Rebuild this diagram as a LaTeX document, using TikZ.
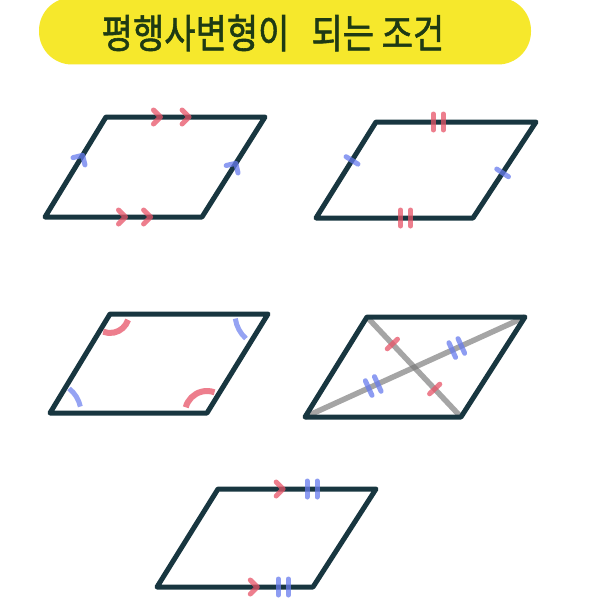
\documentclass[tikz,border=0pt]{standalone}
\usepackage{fontspec}
\newfontfamily\krfont{Noto Sans CJK KR}[AutoFakeBold=1.5]
\definecolor{bannerfill}{RGB}{246,232,44}
\definecolor{titleink}{RGB}{30,58,20}
\definecolor{sideink}{RGB}{24,54,64}
\definecolor{markred}{RGB}{232,84,104}
\definecolor{markblue}{RGB}{104,124,238}
\definecolor{diaggray}{RGB}{118,118,118}
\tikzset{
  side/.style={draw=sideink, line width=5pt, line join=round, line cap=round},
  diag/.style={draw=diaggray, line width=5.5pt, opacity=0.65},
  redmark/.style={draw=markred, line width=5pt, line cap=round, line join=round, opacity=0.75},
  bluemark/.style={draw=markblue, line width=5pt, line cap=round, line join=round, opacity=0.75},
  redarc/.style={draw=markred, line width=6pt, opacity=0.75},
  bluearc/.style={draw=markblue, line width=5pt, opacity=0.7},
  chev/.pic={\draw[pic actions] (-5,-7) -- (2,0) -- (-5,7);},
  onetick/.pic={\draw[pic actions] (0,-7) -- (0,7);},
  twotick/.pic={\draw[pic actions] (-5,-8) -- (-5,8) (5,-8) -- (5,8);}
}
\begin{document}
\begin{tikzpicture}[x=1pt, y=-1pt]
\useasboundingbox (0,0) rectangle (596,610);
\fill[white] (0,0) rectangle (596,610);
\node[fill=bannerfill, rounded corners=33pt, minimum width=492pt, minimum height=67pt] (banner) at (285,31) {};
\node[text=titleink, xscale=0.85, font=\krfont\bfseries\fontsize{40pt}{40pt}\selectfont] (title) at (273,33) {평행사변형이\hspace{26pt}되는 조건};

\coordinate (tl1) at (106,117);
\coordinate (tr1) at (265,117);
\coordinate (br1) at (202,217);
\coordinate (bl1) at (45,217);
\draw[side] (tl1) -- (tr1) -- (br1) -- (bl1) -- cycle;
\path (tl1) -- (tr1) pic[pos=0.33, sloped, redmark]{chev} pic[pos=0.51, sloped, redmark]{chev};
\path (bl1) -- (br1) pic[pos=0.50, sloped, redmark]{chev} pic[pos=0.66, sloped, redmark]{chev};
\path (bl1) -- (tl1) pic[pos=0.60, sloped, bluemark]{chev};
\path (br1) -- (tr1) pic[pos=0.52, sloped, bluemark]{chev};

\coordinate (tl2) at (376,122);
\coordinate (tr2) at (536,122);
\coordinate (br2) at (473,218);
\coordinate (bl2) at (316,218);
\draw[side] (tl2) -- (tr2) -- (br2) -- (bl2) -- cycle;
\path (tl2) -- (tr2) pic[pos=0.39, sloped, redmark]{twotick};
\path (bl2) -- (br2) pic[pos=0.57, sloped, redmark]{twotick};
\path (bl2) -- (tl2) pic[pos=0.60, sloped, bluemark]{onetick};
\path (br2) -- (tr2) pic[pos=0.47, sloped, bluemark]{onetick};

\coordinate (tl3) at (110,314);
\coordinate (tr3) at (268,314);
\coordinate (br3) at (207,413);
\coordinate (bl3) at (50,413);
\draw[side] (tl3) -- (tr3) -- (br3) -- (bl3) -- cycle;
\draw[redarc] ([shift={(18:19)}]tl3) arc[start angle=18, end angle=111, radius=19];
\draw[redarc] ([shift={(195:22)}]br3) arc[start angle=195, end angle=290, radius=22];
\draw[bluearc] ([shift={(132:33)}]tr3) arc[start angle=132, end angle=172, radius=33];
\draw[bluearc] ([shift={(-52:31)}]bl3) arc[start angle=-52, end angle=-12, radius=31];

\coordinate (tl4) at (367,317);
\coordinate (tr4) at (525,317);
\coordinate (br4) at (461,417);
\coordinate (bl4) at (305,417);
\draw[diag] (tl4) -- (br4);
\draw[diag] (bl4) -- (tr4);
\draw[side] (tl4) -- (tr4) -- (br4) -- (bl4) -- cycle;
\path (tl4) -- (br4) pic[pos=0.27, sloped, redmark]{onetick} pic[pos=0.72, sloped, redmark]{onetick};
\path (bl4) -- (tr4) pic[pos=0.31, sloped, bluemark]{twotick} pic[pos=0.69, sloped, bluemark]{twotick};

\coordinate (tl5) at (218,489);
\coordinate (tr5) at (376,489);
\coordinate (br5) at (313,587);
\coordinate (bl5) at (157,587);
\draw[side] (tl5) -- (tr5) -- (br5) -- (bl5) -- cycle;
\path (tl5) -- (tr5) pic[pos=0.40, sloped, redmark]{chev} pic[pos=0.595, sloped, bluemark]{twotick};
\path (bl5) -- (br5) pic[pos=0.63, sloped, redmark]{chev} pic[pos=0.81, sloped, bluemark]{twotick};
\end{tikzpicture}
\end{document}
